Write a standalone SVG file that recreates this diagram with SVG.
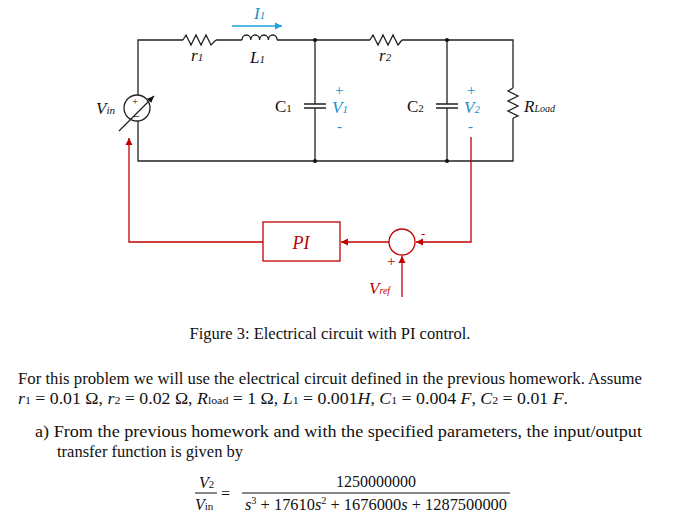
<svg xmlns="http://www.w3.org/2000/svg" width="679" height="517" viewBox="0 0 679 517">
<style>
.w{stroke:#222;stroke-width:1.3;fill:none}
.r{stroke:#c00000;stroke-width:1.3;fill:none}
.b{stroke:#1aa3e0;stroke-width:1.5;fill:none}
text{font-family:"Liberation Serif","Times New Roman",serif;fill:#111}
.it{font-style:italic}
.bl{fill:#1a8fd0}
.rt{fill:#c00000}
</style>
<defs>
<marker id="ar" markerWidth="8" markerHeight="8" refX="7" refY="4" orient="auto" markerUnits="userSpaceOnUse"><path d="M0,0.5 L7,4 L0,7.5z" fill="#c00000"/></marker>
<marker id="ab" markerWidth="8" markerHeight="8" refX="7" refY="4" orient="auto" markerUnits="userSpaceOnUse"><path d="M0,0.5 L7,4 L0,7.5z" fill="#1aa3e0"/></marker>
<marker id="ak" markerWidth="8" markerHeight="8" refX="7" refY="4" orient="auto" markerUnits="userSpaceOnUse"><path d="M0,1 L7,4 L0,7z" fill="#111"/></marker>
</defs>
<g id="connectors">
<path class="w" d="M138,95 V40 H183 M216,40 H242 M277,40 H370 M402,40 H513 V88 M513,118 V161 H138 V121"/>
<path class="w" d="M315,40 V104 M315,108 V161 M447,40 V104 M447,108 V161"/>
<path class="r" d="M471,137 V242 H416" marker-end="url(#ar)"/>
<path class="r" d="M389,242 H341" marker-end="url(#ar)"/>
<path class="r" d="M263,242 H129 V138" marker-end="url(#ar)"/>
<path class="r" d="M402,297 V256" marker-end="url(#ar)"/>
<path class="b" d="M232,26 H282" marker-end="url(#ab)"/>
</g>
<g fill="#111"><circle cx="315" cy="40" r="2"/><circle cx="447" cy="40" r="2"/><circle cx="315" cy="161" r="2"/><circle cx="447" cy="161" r="2"/></g>
<g id="r1"><path class="w" d="M183,40 l3,-5 l5,10 l5,-10 l5,10 l5,-10 l5,10 l5,-5"/><text x="191" y="61" class="it" font-size="17">r<tspan font-size="11">1</tspan></text></g>
<g id="L1"><path class="w" d="M242,40 a4.4,5 0 0 1 8.8,0 a4.4,5 0 0 1 8.8,0 a4.4,5 0 0 1 8.8,0 a4.4,5 0 0 1 8.8,0"/><text x="250" y="63" class="it" font-size="17">L<tspan font-size="11">1</tspan></text><text x="254" y="19" class="it bl" font-size="17">I<tspan font-size="11">1</tspan></text></g>
<g id="r2"><path class="w" d="M370,40 l3,-5 l5,10 l5,-10 l5,10 l5,-10 l5,10 l4,-5"/><text x="379" y="61" class="it" font-size="17">r<tspan font-size="11">2</tspan></text></g>
<g id="Vin"><circle class="w" cx="137" cy="108" r="13"/><path class="w" d="M119,131 L154,96" marker-end="url(#ak)"/><text x="132" y="105" font-size="11">+</text><text x="133" y="119" font-size="12">–</text><text x="96" y="114" class="it" font-size="17">V<tspan font-size="11">in</tspan></text></g>
<g id="C1"><path class="w" d="M304,104 H326 M304,108 H326"/><text x="275" y="112" font-size="17">C<tspan font-size="11">1</tspan></text><text x="335" y="95" class="bl" font-size="15">+</text><text x="332" y="113" class="it bl" font-size="17">V<tspan font-size="11">1</tspan></text><text x="337" y="131" class="bl" font-size="15">-</text></g>
<g id="C2"><path class="w" d="M436,104 H458 M436,108 H458"/><text x="407" y="112" font-size="17">C<tspan font-size="11">2</tspan></text><text x="467" y="95" class="bl" font-size="15">+</text><text x="464" y="113" class="it bl" font-size="17">V<tspan font-size="11">2</tspan></text><text x="468" y="131" class="bl" font-size="15">-</text></g>
<g id="RLoad"><path class="w" d="M513,88 l-5,3 l10,5 l-10,5 l10,5 l-10,5 l10,5 l-5,2"/><text x="524" y="112" class="it" font-size="17">R<tspan font-size="10">Load</tspan></text></g>
<g id="PI"><rect x="263" y="222" width="77" height="39" fill="#fff" stroke="#c00000" stroke-width="1.3"/><text x="301" y="249" text-anchor="middle" class="it rt" font-size="18">PI</text></g>
<g id="sum"><circle class="r" cx="402" cy="242" r="13" fill="#fff"/><text x="421" y="238" class="rt" font-size="13">-</text><text x="387" y="266" class="rt" font-size="15">+</text><text x="369" y="294" class="it rt" font-size="17">V<tspan font-size="10">ref</tspan></text></g>
<text x="330" y="339" text-anchor="middle" font-size="16.5">Figure 3: Electrical circuit with PI control.</text>
<text x="18" y="384" font-size="16.5" textLength="624" lengthAdjust="spacingAndGlyphs">For this problem we will use the electrical circuit defined in the previous homework. Assume</text>
<text x="18" y="404" font-size="16.5" textLength="550" lengthAdjust="spacingAndGlyphs"><tspan class="it">r</tspan><tspan font-size="11">1</tspan> = 0.01 Ω, <tspan class="it">r</tspan><tspan font-size="11">2</tspan> = 0.02 Ω,  <tspan class="it">R</tspan><tspan font-size="11">load</tspan> = 1 Ω,  <tspan class="it">L</tspan><tspan font-size="11">1</tspan> = 0.001<tspan class="it">H</tspan>,  <tspan class="it">C</tspan><tspan font-size="11">1</tspan> = 0.004 <tspan class="it">F</tspan>,  <tspan class="it">C</tspan><tspan font-size="11">2</tspan> = 0.01 <tspan class="it">F</tspan>.</text>
<text x="35" y="437" font-size="16.5" textLength="607" lengthAdjust="spacingAndGlyphs">a) From the previous homework and with the specified parameters, the input/output</text>
<text x="57" y="457" font-size="16.5">transfer function is given by</text>
<text x="199" y="488" font-size="16" class="it">V<tspan font-size="11" font-style="normal">2</tspan></text>
<line x1="195" y1="493" x2="217" y2="493" stroke="#111" stroke-width="1"/>
<text x="195" y="510" font-size="16" class="it">V<tspan font-size="11" font-style="normal">in</tspan></text>
<text x="221" y="499" font-size="16">=</text>
<text x="376" y="487" font-size="16" text-anchor="middle">1250000000</text>
<line x1="242" y1="493" x2="510" y2="493" stroke="#111" stroke-width="1"/>
<text x="376" y="510" font-size="16" text-anchor="middle" textLength="262" lengthAdjust="spacingAndGlyphs"><tspan class="it">s</tspan><tspan font-size="10" dy="-6">3</tspan><tspan dy="6"> + 17610</tspan><tspan class="it">s</tspan><tspan font-size="10" dy="-6">2</tspan><tspan dy="6"> + 1676000</tspan><tspan class="it">s</tspan> + 1287500000</text>
</svg>
